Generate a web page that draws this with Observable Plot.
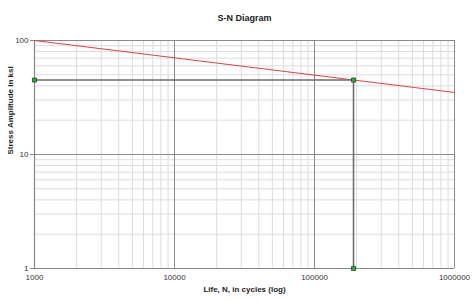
<!DOCTYPE html>
<html><head><meta charset="utf-8">
<script src="https://cdn.jsdelivr.net/npm/d3@7"></script>
<script src="https://cdn.jsdelivr.net/npm/@observablehq/plot@0.6"></script>
<style>body{margin:0;background:#fff;font-family:"Liberation Sans",Arial,sans-serif}</style>
</head><body><div id="chart"></div>
<script>
const title = "S-N Diagram";
const xLabel = "Life, N, in cycles (log)";
const yLabel = "Stress Amplitude in ksi";
const xTicks = [1000, 10000, 100000, 1000000];
const yTicks = [1, 10, 100];
// S-N curve endpoints
const curveN = [1000, 1000000];
const curveS = [100, 35];
// design point path
const pathN = [1000, 190000, 190000];
const pathS = [45, 45, 1];

const curve = curveN.map((n, i) => ({n, s: curveS[i]}));
const path = pathN.map((n, i) => ({n, s: pathS[i]}));
const xMinor = [];
for (const d of xTicks.slice(0, -1)) for (let k = 2; k <= 9; k++) xMinor.push(d * k);
const yMinor = [];
for (const d of yTicks.slice(0, -1)) for (let k = 2; k <= 9; k++) yMinor.push(d * k);

const chart = Plot.plot({
  width: 474, height: 301,
  marginLeft: 34, marginRight: 20, marginTop: 40, marginBottom: 33,
  style: {fontFamily: "'Liberation Sans', Arial, sans-serif", fontSize: "8px", color: "#333", background: "#fff"},
  x: {type: "log", domain: [1000, 1000000], ticks: xTicks, tickFormat: d3.format("d"), label: null},
  y: {type: "log", domain: [1, 100], ticks: yTicks, tickFormat: d3.format("d"), label: null},
  marks: [
    Plot.ruleX(xMinor, {stroke: "#dcdcdc", strokeWidth: 1}),
    Plot.ruleY(yMinor, {stroke: "#dcdcdc", strokeWidth: 1}),
    Plot.ruleX(xTicks.slice(1), {stroke: "#8a8a8a", strokeWidth: 1}),
    Plot.ruleY(yTicks.slice(1), {stroke: "#8a8a8a", strokeWidth: 1}),
    Plot.ruleX([1000], {stroke: "#888", strokeWidth: 1.2}),
    Plot.ruleY([1], {stroke: "#888", strokeWidth: 1.2}),
    Plot.axisX({ticks: xTicks, tickFormat: d3.format("d"), tickSize: 0, tickPadding: 6, label: null, fontSize: 8}),
    Plot.axisY({ticks: yTicks, tickFormat: d3.format("d"), tickSize: 4, tickPadding: 2, stroke: "#888", label: null, fontSize: 8}),
    Plot.line(curve, {x: "n", y: "s", stroke: "#e0404a", strokeWidth: 1}),
    Plot.line(path, {x: "n", y: "s", stroke: "#6e6e6e", strokeWidth: 1.6}),
    Plot.dot(path, {x: "n", y: "s", symbol: "square", r: 2.3, fill: "#3fa03f", stroke: "#1d4d1d", strokeWidth: 0.8}),
    Plot.text([title], {frameAnchor: "top", dy: -26, fontWeight: "bold", fontSize: 9, fill: "#222"}),
    Plot.text([xLabel], {frameAnchor: "bottom", dy: 23, fontWeight: "bold", fontSize: 8, fill: "#222"}),
    Plot.text([yLabel], {frameAnchor: "left", dx: -24, rotate: -90, fontWeight: "bold", fontSize: 8, fill: "#222"})
  ]
});
document.getElementById("chart").appendChild(chart);
</script></body></html>
